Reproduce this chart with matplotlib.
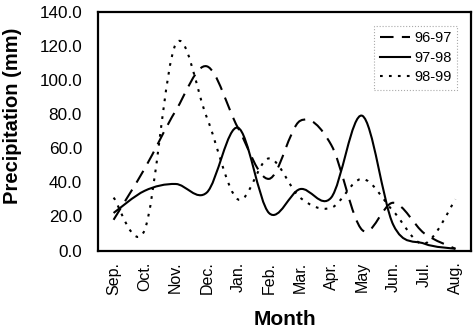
import numpy as np
import matplotlib
matplotlib.use("Agg")
import matplotlib.pyplot as plt
from matplotlib.path import Path
from matplotlib.patches import PathPatch
from matplotlib.lines import Line2D

plt.rcParams['font.family'] = ['Liberation Sans', 'DejaVu Sans']

# monthly precipitation (mm)
months = ['Sep.', 'Oct.', 'Nov.', 'Dec.', 'Jan.', 'Feb.', 'Mar.', 'Apr.',
          'May', 'Jun.', 'Jul.', 'Aug.']
p_96_97 = [18, 48, 82, 108, 72, 42, 76, 62, 12, 28, 10, 1]
p_97_98 = [22, 35, 39, 34, 72, 22, 36, 31, 79, 15, 4, 1]
p_98_99 = [31, 12, 121, 78, 30, 54, 31, 25, 42, 23, 4, 30]

series = [('96-97', p_96_97, (0, (6.5, 4))),
          ('97-98', p_97_98, '-'),
          ('98-99', p_98_99, (0, (1.3, 3)))]


def smooth_path(vals):
    # Excel-style smoothed line: cubic Bezier through each point
    pts = np.column_stack([np.arange(len(vals)), np.asarray(vals, float)])
    n = len(pts)
    verts = [pts[0]]
    codes = [Path.MOVETO]
    for i in range(n - 1):
        p0 = pts[max(i - 1, 0)]
        p1 = pts[i]
        p2 = pts[i + 1]
        p3 = pts[min(i + 2, n - 1)]
        verts += [p1 + (p2 - p0) / 6, p2 - (p3 - p1) / 6, p2]
        codes += [Path.CURVE4] * 3
    return Path(verts, codes)


fig = plt.figure(figsize=(4.74, 3.30), dpi=100)
ax = fig.add_axes([0.2068, 0.2409, 0.7869, 0.7236])

handles = []
for name, vals, ls in series:
    patch = PathPatch(smooth_path(vals), fill=False, edgecolor='black',
                      linewidth=1.5, linestyle=ls, capstyle='butt')
    ax.add_patch(patch)
    handles.append(Line2D([], [], color='black', linewidth=1.5, linestyle=ls,
                          label=name))

ax.set_xlim(-0.5, 11.5)
ax.set_ylim(0, 140)
ax.set_xticks(range(len(months)))
ax.set_xticklabels(months, rotation=90, fontsize=11.5)
ax.set_yticks(range(0, 141, 20))
ax.set_yticklabels([f"{v:.1f}" for v in range(0, 141, 20)], fontsize=12.3)
ax.tick_params(axis='both', length=0)
ax.tick_params(axis='x', pad=8)
ax.tick_params(axis='y', pad=11.5)
for s in ax.spines.values():
    s.set_linewidth(1.6)

ax.set_ylabel('Precipitation (mm)', fontsize=14.5, fontweight='bold')
ax.yaxis.set_label_coords(-0.205, 0.565)
ax.set_xlabel('Month', fontsize=15, fontweight='bold')
ax.xaxis.set_label_coords(0.5, -0.29)
ax.xaxis.label.set_va('center')

leg = ax.legend(handles=handles, loc='upper right', bbox_to_anchor=(0.9625, 0.9415),
                borderaxespad=0, fontsize=10.5, handlelength=2.1,
                handletextpad=0.3, labelspacing=0.4, borderpad=0.35,
                fancybox=False, framealpha=1)
leg.get_frame().set_edgecolor('#aaaaaa')
leg.get_frame().set_linestyle(':')
leg.get_frame().set_linewidth(0.8)

fig.savefig('out.png', dpi=100)
